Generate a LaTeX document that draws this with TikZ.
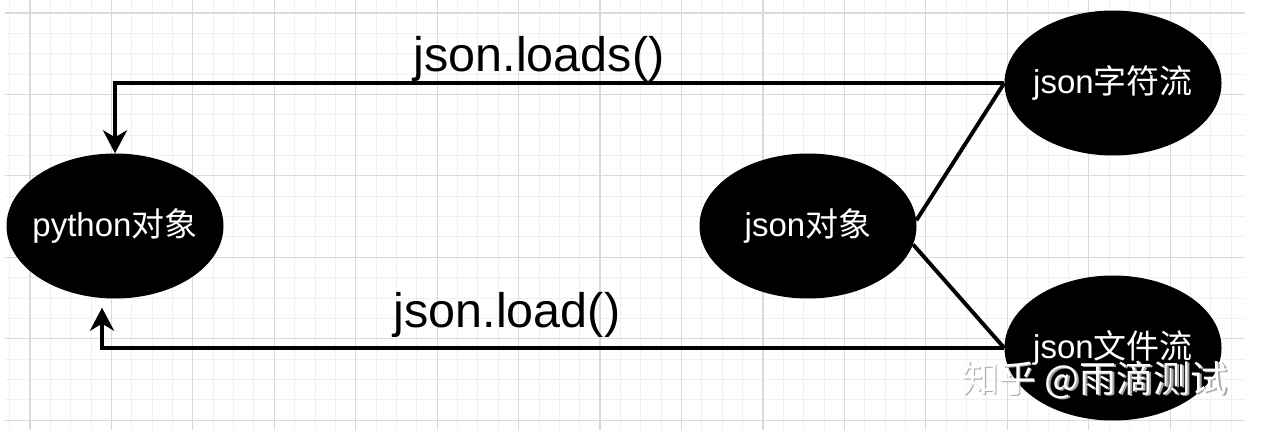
\documentclass[tikz,border=0pt]{standalone}
\usepackage{fontspec}
\setmainfont{Liberation Sans}
\newfontfamily\cjk{Noto Sans CJK SC}
\usetikzlibrary{shapes.geometric,arrows.meta}
\definecolor{gridminor}{HTML}{F0F0F0}
\definecolor{gridmajor}{HTML}{DADADA}
\tikzset{
  blob/.style={ellipse,fill=black,draw=none,minimum width=217pt,minimum height=145pt,inner sep=0pt},
  blobtext/.style={text=white,inner sep=0pt,font=\fontsize{33}{33}\selectfont},
  conn/.style={line width=3.9pt},
  arr/.style={conn,-{Stealth[length=23pt,width=24pt,inset=7pt]}},
  lbl/.style={anchor=base,inner sep=0pt,font=\fontsize{48.5}{48.5}\selectfont},
  gminor/.style={gridminor,line width=1pt},
  gmajor/.style={gridmajor,line width=1.2pt},
  wm/.style={inner sep=0pt,font=\cjk\fontsize{37}{37}\selectfont}
}
\begin{document}
\begin{tikzpicture}[x=1pt,y=-1pt]
\useasboundingbox (0,0) rectangle (1265,430);
\fill[white] (0,0) rectangle (1265,430);
% grid
\foreach \x in {9.64,30.0,...,1245} \draw[gminor] (\x,0) -- (\x,430);
\foreach \y in {13.0,33.36,...,430} \draw[gminor] (5,\y) -- (1245,\y);
\foreach \x in {30.0,111.44,...,1245} \draw[gmajor] (\x,0) -- (\x,430);
\foreach \y in {13.0,94.44,...,430} \draw[gmajor] (5,\y) -- (1245,\y);
% nodes
\node[blob] (py) at (115,226) {};
\node[blobtext] (pyt) at (py.center) {python{\cjk 对象}};
\node[blob] (jo) at (808,226) {};
\node[blobtext] (jot) at (jo.center) {json{\cjk 对象}};
\node[blob] (zf) at (1113,83) {};
\node[blobtext] (zft) at (zf.center) {json{\cjk 字符流}};
\node[blob] (wj) at (1113,348) {};
\node[blobtext] (wjt) at (wj.center) {json{\cjk 文件流}};
% connectors
\draw[arr] (zf.west) -| (py.north);
\draw[arr] (wj.west) -| ([xshift=-13pt,yshift=-9pt]py.south);
\draw[conn] (jo.3) -- (zf.west);
\draw[conn] (jo.-10) -- (wj.west);
% labels
\node[lbl] (l1) at (539,72) {json.loads()};
\node[lbl] (l2) at (507,327) {json.load()};
% watermark
\node[wm,text=gray!70] (wm0) at (1096.5,381.5) {知乎 @雨滴测试};
\node[wm,text=white] (wm1) at (1095,380) {知乎 @雨滴测试};
\end{tikzpicture}
\end{document}
